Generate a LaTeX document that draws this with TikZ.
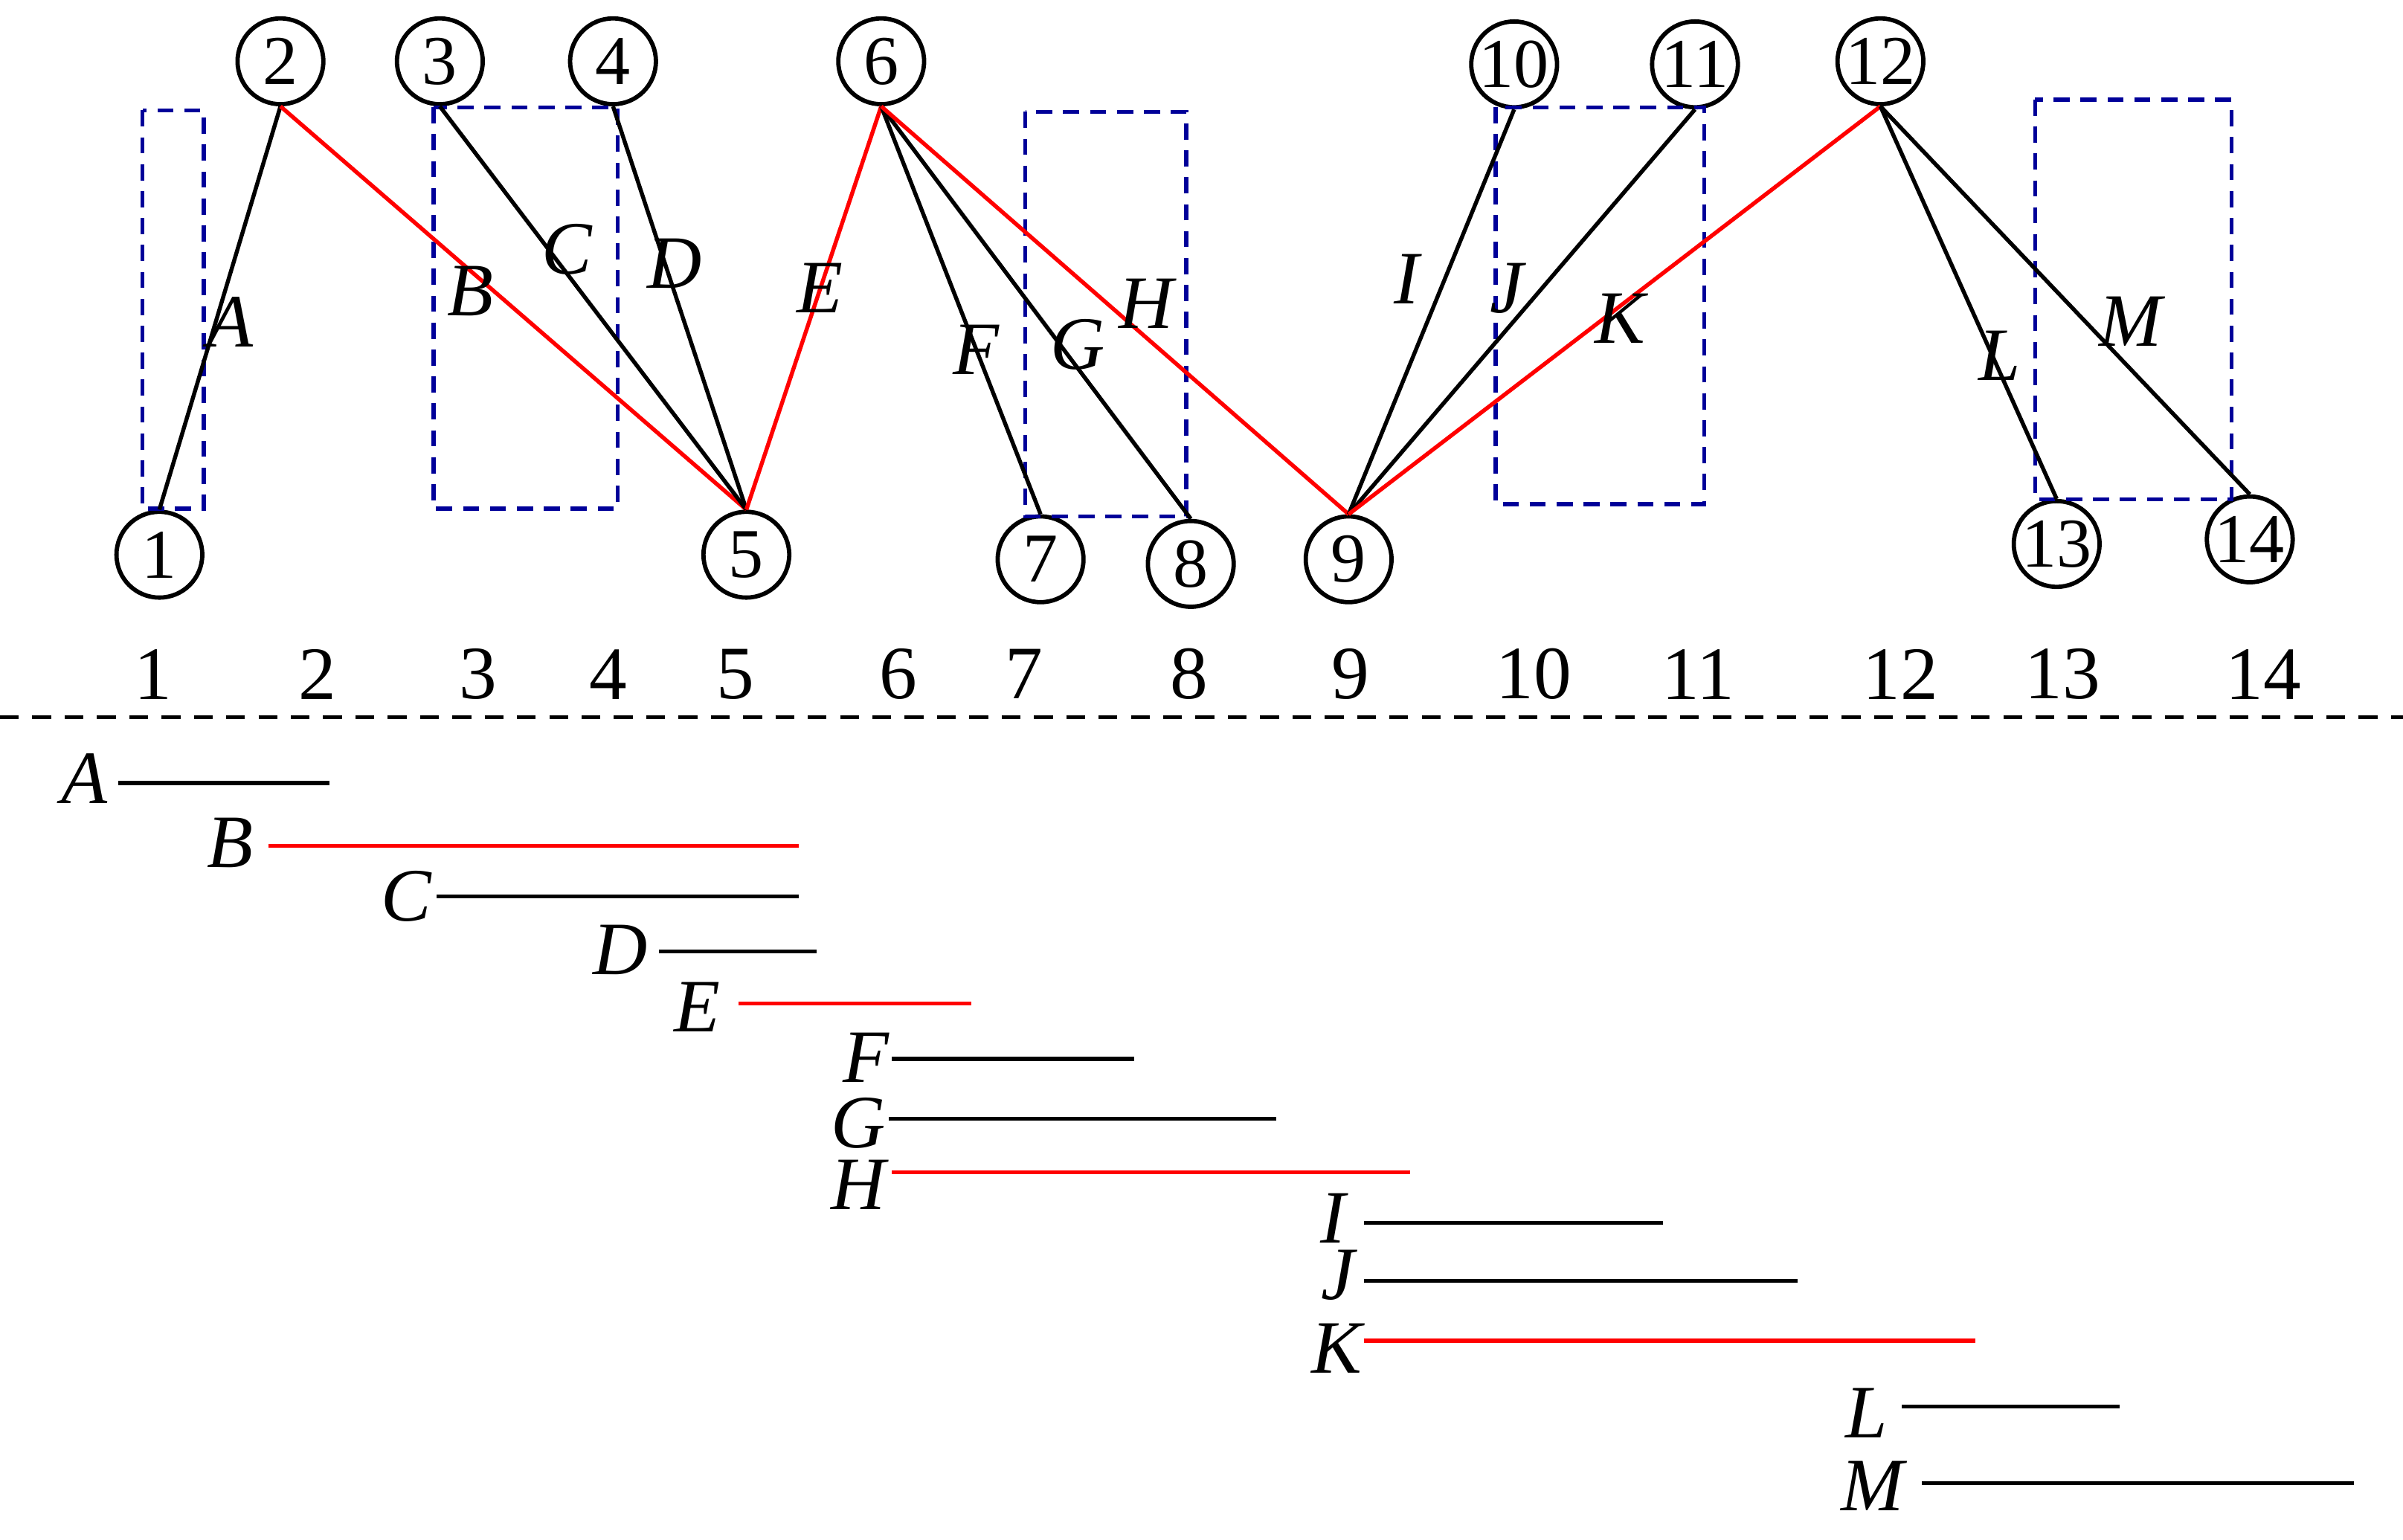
\documentclass[tikz,border=0pt]{standalone}
\usepackage{fontspec}
\setmainfont{Liberation Serif}
\begin{document}
\begin{tikzpicture}[x=0.02cm,y=-0.02cm,
  vtx/.style={circle,draw,line width=1.6pt,minimum size=1.12cm,inner sep=0pt,font=\fontsize{26}{28}\selectfont},
  blk/.style={line width=1.5pt,black},
  rd/.style={line width=1.5pt,red},
  box/.style={draw=blue!60!black,dashed,line width=1.5pt,dash pattern=on 6pt off 4pt},
  lab/.style={font=\fontsize{28}{30}\selectfont\itshape,inner sep=0pt},
  num/.style={font=\fontsize{28}{30}\selectfont,inner sep=0pt}]
\useasboundingbox (0,0) rectangle (1568,1005);
\foreach \n/\x/\y in {1/104/362,2/183/40,3/287/40,4/400/40,5/487/362,6/575/40,7/679/365,8/777/368,9/880/365,10/988/42,11/1106/42,12/1227/40,13/1342/355,14/1468/352}
  \node[vtx] (v\n) at (\x,\y) {\n};
\draw[box] (93,72) rectangle (133,332);
\draw[box] (283,70) rectangle (403,332);
\draw[box] (669,73) rectangle (774,337);
\draw[box] (976,70) rectangle (1112,329);
\draw[box] (1328,65) rectangle (1456,326);
\draw[blk] (v1.north) -- (v2.south);
\draw[rd] (v2.south) -- (v5.north);
\draw[blk] (v3.south) -- (v5.north);
\draw[blk] (v4.south) -- (v5.north);
\draw[rd] (v5.north) -- (v6.south);
\draw[blk] (v6.south) -- (v7.north);
\draw[blk] (v6.south) -- (v8.north);
\draw[rd] (v6.south) -- (v9.north);
\draw[blk] (v9.north) -- (v10.south);
\draw[blk] (v9.north) -- (v11.south);
\draw[rd] (v9.north) -- (v12.south);
\draw[blk] (v12.south) -- (v13.north);
\draw[blk] (v12.south) -- (v14.north);
\foreach \t/\x/\y in {A/150/210,B/307/190,C/370/163,D/440/172,E/535/188,F/637/228,G/703/225,H/748/198,I/918/182,J/983/188,K/1057/208,L/1305/232,M/1390/210}
  \node[lab] (e\t) at (\x,\y) {\t};
\foreach \t/\x in {1/100,2/207,3/312,4/397,5/480,6/586,7/668,8/776,9/881,10/1001,11/1108,12/1240,13/1346,14/1477}
  \node[num] (n\t) at (\x,440) {\t};
\coordinate (dl) at (0,468); \coordinate (dr) at (1568,468);
\draw[line width=1.5pt,dash pattern=on 7pt off 5pt] (dl) -- (dr);
\foreach \t/\lx/\ly/\a/\b/\y/\c in {A/55/508/77/215/511/black,B/150/550/175/521/552/red,C/265/585/285/521/585/black,D/405/620/430/533/621/black,E/455/657/482/634/655/red,F/565/690/582/740/691/black,G/560/733/580/833/730/black,H/560/773/582/920/765/red,I/870/795/890/1085/798/black,J/873/832/890/1173/836/black,K/872/880/890/1289/875/red,L/1218/922/1241/1383/918/black,M/1222/970/1254/1536/968/black}{
  \node[lab] (b\t) at (\lx,\ly) {\t};
  \coordinate (s\t) at (\a,\y); \coordinate (t\t) at (\b,\y);
  \draw[line width=1.5pt,\c] (s\t) -- (t\t);
}
\end{tikzpicture}
\end{document}
